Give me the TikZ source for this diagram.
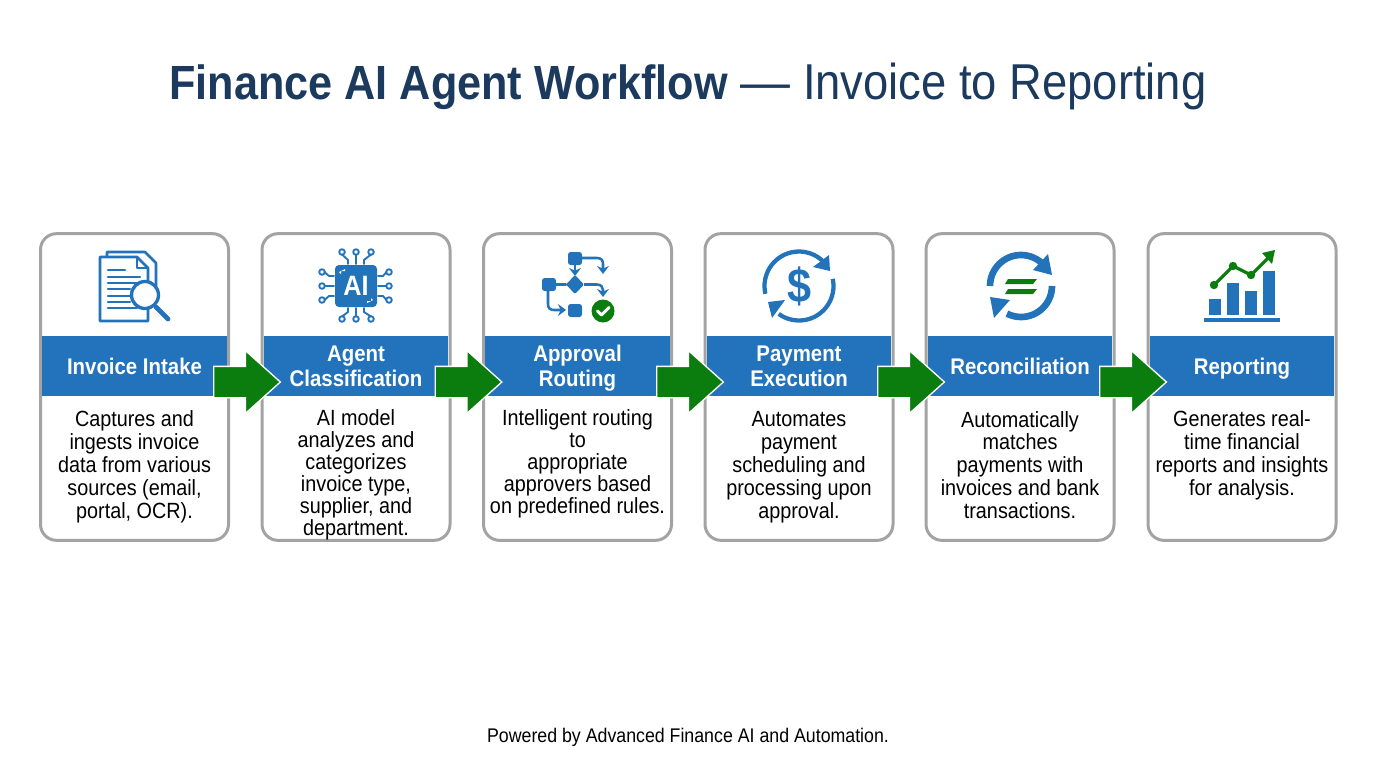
\documentclass[tikz,border=0pt]{standalone}
\usepackage{fontspec}
\setmainfont{Liberation Sans}[FakeStretch=0.9]
\usetikzlibrary{shapes.arrows,arrows.meta}
\definecolor{bandblue}{HTML}{2272BC}
\definecolor{iconblue}{HTML}{2373BA}
\definecolor{flowgreen}{HTML}{0B7D0E}
\definecolor{cardgrey}{HTML}{A3A3A3}
\definecolor{titlenavy}{HTML}{1B3A5E}
\tikzset{
  card/.style={draw=cardgrey,line width=2.25pt,fill=white,rounded corners=12pt,minimum width=141pt,minimum height=230pt,inner sep=0pt},
  band/.style={fill=bandblue,text=white,minimum width=138.5pt,minimum height=45pt,inner sep=0pt,align=center,font=\bfseries\fontsize{17}{19}\selectfont},
  bandone/.style={band,text height=12.2pt,text depth=0pt},
  body/.style={inner sep=0pt,align=center,text=black,font=\fontsize{16.5}{17.2}\selectfont},
  flow/.style={single arrow,draw=white,line width=1pt,fill=flowgreen,anchor=tail,inner xsep=0pt,inner ysep=11.25pt,minimum height=50pt,minimum width=46pt,single arrow head extend=11.75pt,single arrow tip angle=84,single arrow head indent=0pt},
  iconline/.style={draw=iconblue,line width=1.9pt,line cap=round,line join=round},
  iconthin/.style={draw=iconblue,line width=1.4pt,line cap=round,line join=round},
  iconsolid/.style={draw=none,fill=iconblue},
  greensolid/.style={draw=none,fill=flowgreen},
  whitesolid/.style={draw=none,fill=white},
  iconring/.style={draw=iconblue,line width=3.2pt},
  greenline/.style={draw=flowgreen,line width=2.4pt,line cap=round,line join=round},
  lineback/.style={-{Stealth[length=6pt,width=9pt]},draw=iconblue,line width=1.9pt}
}
\begin{document}
\begin{tikzpicture}[x=0.75pt,y=0.75pt,yscale=-1,xscale=1]
\useasboundingbox (0,0) rectangle (1376,768);

% Text Node
\draw (688,86) node [inner sep=0pt,text=titlenavy,font=\fontsize{37.8}{44}\selectfont] (title) {{\bfseries\fontsize{36}{44}\selectfont Finance AI Agent Workflow} \scalebox{1.1}[1]{---} Invoice to Reporting};
% Text Node
\draw (688,737) node [inner sep=0pt,font=\fontsize{14.8}{17}\selectfont] (footer) {Powered by Advanced Finance AI and Automation.};

%Shape: Rounded Rect
\draw (134.5,387) node [card] (cardIntake) {};
\draw (356,387) node [card] (cardClass) {};
\draw (577.5,387) node [card] (cardRouting) {};
\draw (799,387) node [card] (cardPayment) {};
\draw (1020,387) node [card] (cardRecon) {};
\draw (1242,387) node [card] (cardReport) {};

% Text Node
\draw (134.5,366) node [bandone] (bandIntake) {Invoice Intake};
\draw (356,366) node [band] (bandClass) {Agent\\Classification};
\draw (577.5,366) node [band] (bandRouting) {Approval\\\smash{Routing}};
\draw (799,366) node [band] (bandPayment) {Payment\\Execution};
\draw (1020,366) node [bandone] (bandRecon) {Reconciliation};
\draw (1242,366) node [bandone] (bandReport) {Reporting};

% Text Node
\draw (134.5,467) node [body] (textIntake) {Captures and\\ingests invoice\\data from various\\sources (email,\\portal, OCR).};
\draw (356,474.5) node [body,font=\fontsize{16.5}{16.5}\selectfont] (textClass) {AI model\\analyzes and\\categorizes\\invoice type,\\supplier, and\\department.};
\draw (577.5,464) node [body,font=\fontsize{16.5}{16.6}\selectfont] (textRouting) {Intelligent routing\\to\\appropriate\\approvers based\\on predefined rules.};
\draw (799,467) node [body] (textPayment) {Automates\\payment\\scheduling and\\processing upon\\approval.};
\draw (1020,465) node [body] (textRecon) {Automatically\\matches\\payments with\\invoices and bank\\transactions.};
\draw (1242,455.5) node [body] (textReport) {Generates real-\\time financial\\reports and insights\\for analysis.};

%Shape: Right Arrow
\draw (213,382) node [flow] (flowA) {};
\draw (434.5,382) node [flow] (flowB) {};
\draw (656,382) node [flow] (flowC) {};
\draw (877,382) node [flow] (flowD) {};
\draw (1099,382) node [flow] (flowE) {};

%Shape: Document back
\draw [iconline,fill=white] (107,257) -- (107,252) -- (145,252) -- (156,263) -- (156,290) ;
%Shape: Document front
\draw [iconline,fill=white] (100,257) -- (137,257) -- (148,268) -- (148,321) -- (100,321) -- cycle ;
\draw [iconline] (137,257) -- (137,268) -- (148,268) ;
%Straight Lines
\draw [iconline] (108,270) -- (125,270) ;
\draw [iconline] (108,277) -- (140,277) ;
\draw [iconline] (108,283) -- (137,283) ;
\draw [iconline] (108,289) -- (130,289) ;
\draw [iconline] (108,296) -- (130,296) ;
\draw [iconline] (108,302) -- (130,302) ;
\draw [iconline] (108,308) -- (137,308) ;
%Shape: Lens
\draw [iconline,fill=white,line width=2.5pt] (145,295) circle (13.5) ;
\draw [iconline,line width=3.6pt] (156,307) -- (168,319) ;

%Shape: Chip
\draw [iconsolid,rounded corners=3pt] (335,265) rectangle (377,307) ;
\draw [whitesolid] (339,272) -- (345,269) -- (345,271) -- (341,271) -- (341,274) -- cycle ;
\draw [whitesolid] (373,300) -- (367,303) -- (367,301) -- (371,301) -- (371,298) -- cycle ;
% Text Node
\draw (356,286) node [inner sep=0pt,text=white,font=\bfseries\fontsize{21}{23}\selectfont] (chipText) {AI};
%Straight Lines
\draw [iconthin] (342,254.5) -- (348,260) -- (348,264) ;
\draw [iconthin] (356,254.5) -- (356,264) ;
\draw [iconthin] (371,254.5) -- (364,260) -- (364,264) ;
\draw [iconthin] (342,316.5) -- (348,312) -- (348,308) ;
\draw [iconthin] (356,316.5) -- (356,308) ;
\draw [iconthin] (371,316.5) -- (364,312) -- (364,308) ;
\draw [iconthin] (324.5,272) -- (329,276) -- (334,276) ;
\draw [iconthin] (324.5,286) -- (334,286) ;
\draw [iconthin] (324.5,300) -- (329,296) -- (334,296) ;
\draw [iconthin] (386.5,272) -- (383,276) -- (378,276) ;
\draw [iconthin] (386.5,286) -- (378,286) ;
\draw [iconthin] (386.5,300) -- (383,296) -- (378,296) ;
%Shape: Circle
\draw [iconthin] (342,252) circle (2.8) (356,252) circle (2.8) (371,252) circle (2.8) ;
\draw [iconthin] (342,319) circle (2.8) (356,319) circle (2.8) (371,319) circle (2.8) ;
\draw [iconthin] (322,272) circle (2.8) (322,286) circle (2.8) (322,300) circle (2.8) ;
\draw [iconthin] (389,272) circle (2.8) (389,286) circle (2.8) (389,300) circle (2.8) ;

%Shape: Flow boxes
\draw [iconsolid,rounded corners=2pt] (568,252) rectangle (582,265) ;
\draw [iconsolid,rounded corners=2pt] (542,278) rectangle (556,291) ;
\draw [iconsolid,rounded corners=2pt] (568,304) rectangle (582,317) ;
\draw [iconsolid,rounded corners=1pt] (575,275) -- (584,284.5) -- (575,294) -- (566,284.5) -- cycle ;
%Straight Lines
\draw [lineback] (582,258) -- (597,258) .. controls (601,258) and (603,260) .. (603,264) -- (603,274) ;
\draw [lineback] (575,265) -- (575,276) ;
\draw [iconline] (556,284.5) -- (566,284.5) ;
\draw [lineback] (584,284.5) -- (597,284.5) .. controls (601,284.5) and (603,287) .. (603,290) -- (603,297) ;
\draw [lineback] (548,291) -- (548,304) .. controls (548,308) and (550,310) .. (554,310) -- (566,310) ;
%Shape: Check
\draw [greensolid] (603,311) circle (11.5) ;
\draw [draw=white,line width=2.2pt,line cap=round,line join=round] (597.5,311) -- (601.5,315) -- (609,307.5) ;

%Shape: Arc
\draw [iconring] (799,286) ++(167:34.5) arc [start angle=167,end angle=318,radius=34.5] ;
\draw [iconsolid] (829,255) -- (830,271) -- (813,267) -- cycle ;
\draw [iconring] (799,286) ++(-12:34.5) arc [start angle=-12,end angle=126,radius=34.5] ;
\draw [iconsolid] (768,302) -- (785,300) -- (772,318) -- cycle ;
% Text Node
\draw (799,286) node [inner sep=0pt,text=iconblue,font=\bfseries\fontsize{36}{38}\selectfont] (dollarSign) {\$};

%Shape: Arc
\draw [iconring,line width=5pt] (1021,286) ++(180:31) arc [start angle=180,end angle=318,radius=31] ;
\draw [iconsolid] (1048,254) -- (1052,275) -- (1033,270) -- cycle ;
\draw [iconring,line width=5pt] (1021,286) ++(0:31) arc [start angle=0,end angle=117,radius=31] ;
\draw [iconsolid] (990,297) -- (1010,300) -- (994,318) -- cycle ;
%Shape: Bars
\draw [greensolid] (1008,279) -- (1037,279) -- (1033,284) -- (1005,284) -- cycle ;
\draw [greensolid] (1008,289) -- (1037,289) -- (1033,294) -- (1005,294) -- cycle ;

%Shape: Chart bars
\draw [iconsolid] (1209,299) rectangle (1221,315) ;
\draw [iconsolid] (1227,283) rectangle (1239,315) ;
\draw [iconsolid] (1245,291) rectangle (1257,315) ;
\draw [iconsolid] (1263,271) rectangle (1275,315) ;
\draw [iconsolid] (1204,318) rectangle (1280,322) ;
%Straight Lines
\draw [greenline] (1214,285) -- (1233,266) -- (1251,275) -- (1270,256) ;
\draw [greensolid] (1214,285) circle (4.2) (1233,266) circle (4.2) (1251,275) circle (4.2) ;
\draw [greensolid] (1275,250) -- (1272,264) -- (1262,253) -- cycle ;

\end{tikzpicture}
\end{document}
